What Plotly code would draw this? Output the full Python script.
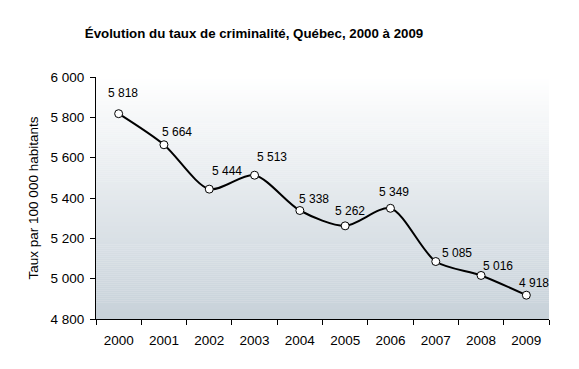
import plotly.graph_objects as go

years = ["2000", "2001", "2002", "2003", "2004", "2005", "2006", "2007", "2008", "2009"]
rates = [5818, 5664, 5444, 5513, 5338, 5262, 5349, 5085, 5016, 4918]
y_ticks = [4800, 5000, 5200, 5400, 5600, 5800, 6000]

title_text = "Évolution du taux de criminalité, Québec, 2000 à 2009"
y_title = "Taux par 100 000 habitants"

# label offsets (pixels) relative to each marker
label_dx = [4, 13, 18, 17, 14, 5, 4, 21, 17, 8]
label_dy = [21, 13, 18, 18, 12, 15, 16, 9, 9, 12]

def fmt(v):
    return f"{v:,}".replace(",", " ")

FONT = "Liberation Sans, Arial"

fig = go.Figure()
fig.add_trace(go.Scatter(
    x=years, y=rates, mode="lines+markers",
    line=dict(color="black", width=2, shape="spline", smoothing=0.8),
    marker=dict(size=8, color="white", line=dict(color="black", width=1)),
    hoverinfo="skip", showlegend=False,
))

annotations = []
for i, (v, dx, dy) in enumerate(zip(rates, label_dx, label_dy)):
    annotations.append(dict(
        x=i, y=v, xref="x", yref="y", text=fmt(v), showarrow=False,
        xshift=dx, yshift=dy, font=dict(family=FONT, size=12, color="black"),
    ))

# vertical gradient background
shapes = []
n = 120
top = (255, 255, 255)
bot = (199, 209, 217)
for i in range(n):
    t = (i + 0.5) / n
    c = tuple(round(top[k] + (bot[k] - top[k]) * t) for k in range(3))
    shapes.append(dict(
        type="rect", xref="paper", yref="paper",
        x0=0, x1=1, y0=1 - (i + 1) / n, y1=1 - i / n + 0.001,
        fillcolor=f"rgb{c}", line=dict(width=0), layer="below",
    ))

fig.update_layout(
    width=579, height=369,
    margin=dict(l=96, r=30, t=77, b=50),
    paper_bgcolor="white", plot_bgcolor="white",
    font=dict(family=FONT, size=13, color="black"),
    title=dict(text="<b>" + title_text + "</b>", x=254 / 579, xanchor="center",
               y=1 - 33 / 369, yanchor="middle",
               font=dict(size=13.3, family=FONT)),
    shapes=shapes,
    annotations=annotations,
)
fig.update_xaxes(
    type="category", showline=True, linecolor="black", linewidth=1,
    ticks="outside", ticklen=5, tickcolor="black", tickson="boundaries",
    showgrid=False, zeroline=False, range=[-0.5, 9.5], automargin=False,
    tickfont=dict(size=13.5), ticklabelstandoff=9,
)
fig.update_yaxes(
    range=[4800, 6000], tickvals=y_ticks, ticktext=[fmt(v) for v in y_ticks],
    showline=True, linecolor="black", linewidth=1,
    ticks="outside", ticklen=5, tickcolor="black", automargin=False,
    showgrid=False, zeroline=False, tickfont=dict(size=13.5), ticklabelstandoff=3,
    title=dict(text=y_title, font=dict(size=13.5), standoff=8),
)
fig.write_html("out.html", post_script="document.body.style.margin='0';",
               config={"displayModeBar": False})
